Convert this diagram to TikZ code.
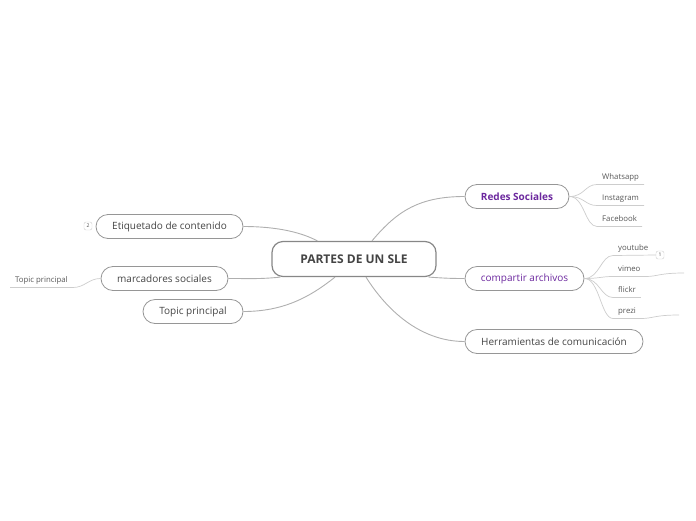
\documentclass[tikz,border=0pt]{standalone}
\usepackage{fontspec}
\setmainfont{Open Sans}
\usetikzlibrary{calc}
\definecolor{boxgray}{RGB}{150,150,150}
\definecolor{txtgray}{RGB}{68,68,68}
\definecolor{linkgray}{RGB}{175,175,175}
\definecolor{twiggray}{RGB}{205,205,205}
\definecolor{purp}{RGB}{108,40,158}

\begin{document}
\begin{tikzpicture}[x=1pt,y=-1pt,
  topic/.style={draw=boxgray,line width=0.8pt,rounded corners=12pt,minimum height=24pt,
    font=\fontsize{10}{12}\selectfont,text=txtgray},
  leaf/.style={anchor=south west,inner xsep=5pt,inner ysep=3pt,text height=6pt,text depth=2pt,
    font=\fontsize{7.8}{9}\selectfont,text=txtgray!90},
  badge/.style={draw=twiggray,rounded corners=2pt,minimum size=8pt,inner sep=0pt,
    font=\fontsize{5}{5}\selectfont,text=txtgray},
  link/.style={draw=linkgray,line width=0.9pt},
  twig/.style={draw=twiggray,line width=0.7pt}]
  \useasboundingbox (0,0) rectangle (696,520);
  \node[topic,minimum width=164pt,minimum height=35pt,rounded corners=11pt,line width=1.2pt,draw=boxgray!90!black,
    font=\bfseries\fontsize{12}{14}\selectfont] (sle) at (354,259) {PARTES DE UN SLE};
  \node[topic,minimum width=104pt,text=purp,font=\bfseries\fontsize{10}{12}\selectfont] (redes) at (517,196.5) {Redes Sociales};
  \node[topic,minimum width=119pt,text=purp] (comp) at (524.5,278.5) {compartir archivos};
  \node[topic,minimum width=178pt] (herr) at (554,341.5) {Herramientas de comunicación};
  \node[topic,minimum width=147pt] (etiq) at (169.5,226.5) {Etiquetado de contenido};
  \node[topic,minimum width=127pt] (marc) at (164.5,278.5) {marcadores sociales};
  \node[topic,minimum width=100pt] (tp) at (193,311.5) {Topic principal};
  \node[badge] (b2) at (88,226) {2};
  \node[badge] (b1) at (660,255) {1};

  \draw[link] ($(sle.north)+(18,0)$) .. controls +(25,-30) and +(-45,0) .. (redes.west);
  \draw[link] ($(sle.south east)+(-8,0)$) .. controls +(15,1) and +(-15,0) .. (comp.west);
  \draw[link] ($(sle.south)+(12,0)$) .. controls +(20,32) and +(-45,0) .. (herr.west);
  \draw[link] (etiq.east) .. controls +(35,0) and +(-15,-8) .. ($(sle.north west)+(46,0)$);
  \draw[link] (marc.east) .. controls +(25,0) and +(-20,2) .. ($(sle.south west)+(9,0)$);
  \draw[link] (tp.east) .. controls +(40,0) and +(-25,20) .. ($(sle.south)+(-19,0)$);

  \node[leaf] (wa) at (597,184.5) {Whatsapp};
  \node[leaf] (ig) at (597,205.5) {Instagram};
  \node[leaf] (fb) at (597,226.5) {Facebook};
  \foreach \n in {wa,ig,fb}
    \draw[twig] (redes.east) .. controls +(15,0) and +(-12,0) .. (\n.south west) -- (\n.south east);

  \node[leaf] (yt) at (613,255.5) {youtube};
  \node[leaf] (vi) at (613,276.5) {vimeo};
  \node[leaf] (fl) at (613,297.5) {flickr};
  \node[leaf] (pz) at (613,318.5) {prezi};
  \coordinate (viend) at (684,273);
  \coordinate (pzend) at (679,315);
  \foreach \n in {yt,vi,fl,pz}
    \draw[twig] (comp.east) .. controls +(15,0) and +(-12,0) .. (\n.south west);
  \draw[twig] (yt.south west) -- (b1.west);
  \draw[twig] (vi.south west) -- (vi.south east) .. controls +(12,0) and +(-25,0) .. (viend);
  \draw[twig] (fl.south west) -- (fl.south east);
  \draw[twig] (pz.south west) -- (pz.south east) .. controls +(12,0) and +(-25,0) .. (pzend);

  \node[leaf] (tpl) at (10,287.5) {Topic principal};
  \draw[twig] (marc.west) .. controls +(-12,0) and +(12,0) .. (tpl.south east) -- (tpl.south west);
\end{tikzpicture}
\end{document}
